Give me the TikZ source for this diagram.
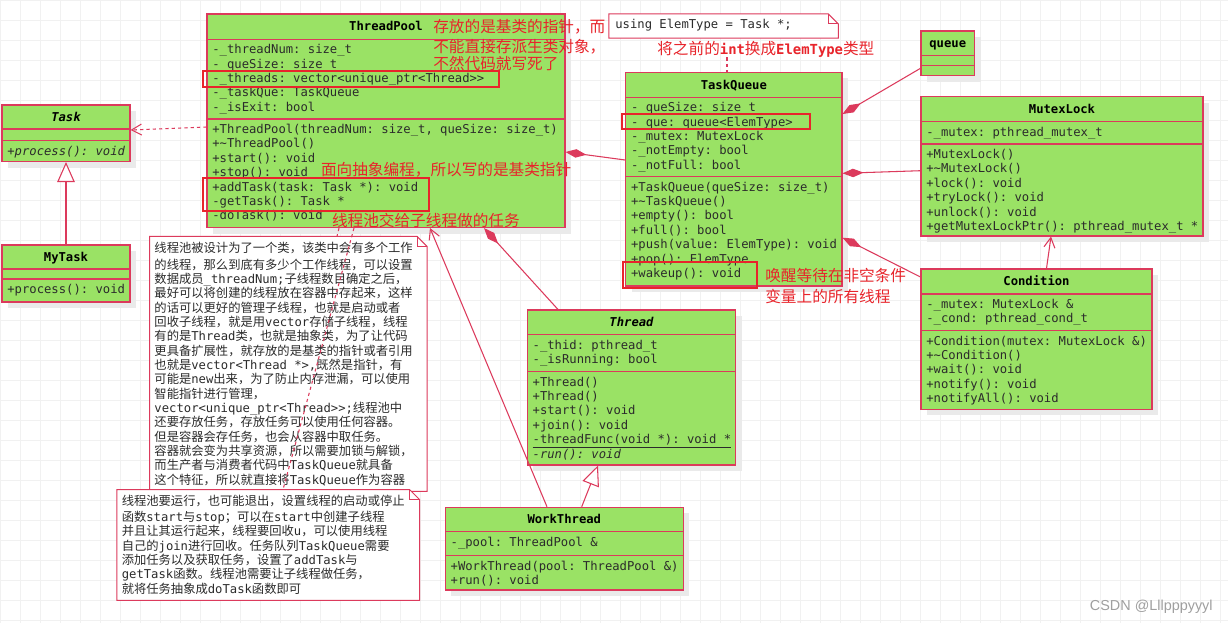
\documentclass[tikz,border=0pt]{standalone}
\usepackage{fontspec}
\setmonofont{DejaVu Sans Mono}
\setsansfont{Liberation Sans}
\newfontfamily\cjk{Noto Sans CJK SC}
\usetikzlibrary{arrows.meta, fit, calc}
\definecolor{umlGreen}{HTML}{9AE265}
\definecolor{umlBorder}{HTML}{DC3A5C}
\definecolor{umlText}{HTML}{2B2B2B}
\definecolor{annoRed}{HTML}{E8242B}
\definecolor{gridGrey}{HTML}{F1F1F1}
\definecolor{shadowGrey}{HTML}{EAEAEA}
\newcommand\umlfont{\ttfamily\fontsize{6.95}{8.2}\selectfont}
\newcommand\notefont{\cjk\fontsize{7}{8.15}\selectfont}
\newcommand\lt[1]{{\ttfamily\fontsize{6.95}{8.15}\selectfont #1}}
\newcommand\redfont{\cjk\fontsize{8.9}{10}\selectfont}
\tikzset{
  % class boxes and their parts
  classbox/.style   = {draw=umlBorder, fill=umlGreen, line width=0.6pt, inner sep=0},
  classrule/.style  = {umlBorder, line width=0.6pt},
  boxshadow/.style  = {fill=shadowGrey},
  classtitle/.style = {anchor=base, inner sep=0, font=\umlfont\bfseries, text=black},
  members/.style    = {anchor=north west, align=left, inner xsep=0.1cm, inner ysep=0,
                       font=\umlfont, text=umlText},
  % notes
  notearea/.style   = {inner sep=0},
  notebox/.style    = {draw=umlBorder, fill=white, line width=0.6pt},
  notetext/.style   = {anchor=north west, align=left, inner xsep=0.09cm, inner ysep=0,
                       font=\notefont, text=umlText},
  % red remarks on top
  markbox/.style    = {draw=annoRed, line width=1.1pt},
  redlbl/.style     = {anchor=base west, inner sep=0, font=\redfont, text=annoRed},
  % connectors
  compose/.style    = {{Diamond[length=4.2mm, width=1.7mm]}-, umlBorder, line width=0.6pt},
  inherit/.style    = {-{Triangle[length=4mm, width=3.5mm, fill=white]}, umlBorder, line width=0.6pt},
  assoc/.style      = {-{Straight Barb[length=2mm, width=2.2mm]}, umlBorder, line width=0.6pt},
  depline/.style    = {assoc, dash pattern=on 1.8pt off 1.8pt},
  notelink/.style   = {umlBorder, line width=0.6pt, dash pattern=on 1.8pt off 1.8pt},
  gridline/.style   = {gridGrey, line width=0.3pt},
}
% #1 name, #2 left, #3 top, #4 right, #5 first rule, #6 second rule, #7 bottom
\newcommand{\umlbox}[7]{%
  \fill[boxshadow] (#2+6,#3+6) rectangle (#4+6,#7+6);
  \node[classbox, fit={(#2,#3) (#4,#7)}] (#1) {};
  \draw[classrule] (#2,#5) -- (#4,#5) (#2,#6) -- (#4,#6);
  \coordinate (#1-t) at ({(#2+#4)/2},{(#3+#5)/2+4.3});
  \coordinate (#1-a) at (#2,#5+4);
  \coordinate (#1-o) at (#2,#6+4);
}
% note with a folded corner, drawn round a fit node
\newcommand{\umlnote}[1]{%
  \draw[notebox] (#1.north west) -- ($(#1.north east)+(-10,0)$) -- ($(#1.north east)+(0,10)$)
    -- (#1.south east) -- (#1.south west) -- cycle;
  \draw[notebox, fill=none] ($(#1.north east)+(-10,0)$) -- ($(#1.north east)+(-10,10)$)
    -- ($(#1.north east)+(0,10)$);
}
\begin{document}
\begin{tikzpicture}[x=0.02cm, y=-0.02cm]
  \useasboundingbox (0,0) rectangle (1228,623);
  \fill[white] (0,0) rectangle (1228,623);
  % --- faint background grid ---------------------------------------------
  \foreach \gx in {0,20,...,1220} \draw[gridline] (\gx,0) -- (\gx,623);
  \foreach \gy in {0,20,...,620} \draw[gridline] (0,\gy) -- (1228,\gy);

  % --- ThreadPool -------------------------------------------------------
  \umlbox{pool}{207}{14}{565}{39.3}{119}{227.5}
  \node[classtitle] (pool-name) at (pool-t) {ThreadPool};
  \node[members] (pool-attrs) at (pool-a) {\strut-\_threadNum: size\_t\\-\_queSize: size\_t\\
    -\_threads: vector<unique\_ptr<Thread>{}>\\-\_taskQue: TaskQueue\\-\_isExit: bool};
  \node[members] (pool-ops) at (pool-o) {\strut+ThreadPool(threadNum: size\_t, queSize: size\_t)\\
    +\textasciitilde ThreadPool()\\+start(): void\\+stop(): void\\+addTask(task: Task *): void\\
    -getTask(): Task *\\-doTask(): void};

  % --- Task / MyTask ----------------------------------------------------
  \umlbox{task}{2}{105}{130}{129}{140.7}{161.5}
  \node[classtitle] (task-name) at (task-t) {\itshape Task};
  \node[members] (task-ops) at (task-o) {\strut\itshape +process(): void};
  \umlbox{mytask}{2}{245}{130}{269}{279}{302}
  \node[classtitle] (mytask-name) at (mytask-t) {MyTask};
  \node[members] (mytask-ops) at (mytask-o) {\strut+process(): void};

  % --- TaskQueue and what it holds --------------------------------------
  \umlbox{tq}{625.7}{72.3}{842}{97.3}{176.7}{286}
  \node[classtitle] (tq-name) at (tq-t) {TaskQueue};
  \node[members] (tq-attrs) at (tq-a) {\strut-\_queSize: size\_t\\-\_que: queue<ElemType>\\
    -\_mutex: MutexLock\\-\_notEmpty: bool\\-\_notFull: bool};
  \node[members] (tq-ops) at (tq-o) {\strut+TaskQueue(queSize: size\_t)\\+\textasciitilde TaskQueue()\\
    +empty(): bool\\+full(): bool\\+push(value: ElemType): void\\+pop(): ElemType\\+wakeup(): void};

  \umlbox{queue}{921}{31}{974.5}{55.7}{65.7}{75.7}
  \node[classtitle] (queue-name) at (queue-t) {queue};

  \umlbox{mutex}{921}{96.7}{1203}{121.7}{144}{236}
  \node[classtitle] (mutex-name) at (mutex-t) {MutexLock};
  \node[members] (mutex-attrs) at (mutex-a) {\strut-\_mutex: pthread\_mutex\_t};
  \node[members] (mutex-ops) at (mutex-o) {\strut+MutexLock()\\+\textasciitilde MutexLock()\\
    +lock(): void\\+tryLock(): void\\+unlock(): void\\+getMutexLockPtr(): pthread\_mutex\_t *};

  \umlbox{cond}{921}{269}{1152}{294}{330.7}{409.3}
  \node[classtitle] (cond-name) at (cond-t) {Condition};
  \node[members] (cond-attrs) at (cond-a) {\strut-\_mutex: MutexLock \&\\-\_cond: pthread\_cond\_t};
  \node[members] (cond-ops) at (cond-o) {\strut+Condition(mutex: MutexLock \&)\\+\textasciitilde Condition()\\
    +wait(): void\\+notify(): void\\+notifyAll(): void};

  % --- Thread / WorkThread ----------------------------------------------
  \umlbox{thread}{527.3}{310}{735.7}{334.7}{371.7}{465}
  \node[classtitle] (thread-name) at (thread-t) {\itshape Thread};
  \node[members] (thread-attrs) at (thread-a) {\strut-\_thid: pthread\_t\\-\_isRunning: bool};
  \node[members] (thread-ops) at (thread-o) {\strut+Thread()\\+Thread()\\+start(): void\\+join(): void\\
    \underline{-threadFunc(void *): void *}\\\textit{-run(): void}};

  \umlbox{work}{445.3}{507.3}{683.3}{531.7}{555.7}{590}
  \node[classtitle] (work-name) at (work-t) {WorkThread};
  \node[members] (work-attrs) at (work-a) {\strut-\_pool: ThreadPool \&};
  \node[members] (work-ops) at (work-o) {\strut+WorkThread(pool: ThreadPool \&)\\+run(): void};

  % --- notes ------------------------------------------------------------
  \node[notearea, fit={(150,236.7) (426.7,491)}] (note1) {};
  \umlnote{note1}
  \node[notetext] (note1-text) at ($(note1.north west)+(0,5.7)$) {\strut
    线程池被设计为了一个类，该类中会有多个工作\\
    的线程，那么到底有多少个工作线程，可以设置\\
    数据成员\lt{\_threadNum;}子线程数目确定之后，\\
    最好可以将创建的线程放在容器中存起来，这样\\
    的话可以更好的管理子线程，也就是启动或者\\
    回收子线程，就是用\lt{vector}存储子线程，线程\\
    有的是\lt{Thread}类，也就是抽象类，为了让代码\\
    更具备扩展性，就存放的是基类的指针或者引用\\
    也就是\lt{vector<Thread *>,}既然是指针，有\\
    可能是\lt{new}出来，为了防止内存泄漏，可以使用\\
    智能指针进行管理，\\
    \lt{vector<unique\_ptr<Thread>{}>;}线程池中\\
    还要存放任务，存放任务可以使用任何容器。\\
    但是容器会存任务，也会从容器中取任务。\\
    容器就会变为共享资源，所以需要加锁与解锁，\\
    而生产者与消费者代码中\lt{TaskQueue}就具备\\
    这个特征，所以就直接将\lt{TaskQueue}作为容器};

  \node[notearea, fit={(117.3,490) (419.3,600)}] (note2) {};
  \umlnote{note2}
  \node[notetext] (note2-text) at ($(note2.north west)+(0,4.7)$) {\strut
    线程池要运行，也可能退出，设置线程的启动或停止\\
    函数\lt{start}与\lt{stop}；可以在\lt{start}中创建子线程\\
    并且让其运行起来，线程要回收\lt{u}，可以使用线程\\
    自己的\lt{join}进行回收。任务队列\lt{TaskQueue}需要\\
    添加任务以及获取任务，设置了\lt{addTask}与\\
    \lt{getTask}函数。线程池需要让子线程做任务，\\
    就将任务抽象成\lt{doTask}函数即可};

  \node[notearea, fit={(609.3,14.3) (838,37.7)}] (usingnote) {};
  \umlnote{usingnote}
  \node[anchor=base west, inner sep=0, font=\umlfont, text=umlText] (using-text) at (615,28.9)
    {using ElemType = Task *;};

  % --- connectors -------------------------------------------------------
  \draw[depline] (pool.west |- 0,127) -- (task.east |- 0,130);
  \draw[inherit] (mytask.north) -- (task.south);
  \draw[compose] (pool.east |- 0,152) -- (tq.west |- 0,160);
  \draw[compose] (pool.south -| 484,0) -- (thread.north -| 558,0);
  \draw[assoc] (work.north -| 547,0) -- (pool.south -| 430,0);
  \draw[inherit] (work.north -| 581.7,0) -- (thread.south -| 598,0);
  \draw[compose] (tq.east |- 0,114) -- (queue.west |- 0,68.3);
  \draw[compose] (tq.east |- 0,173.3) -- (mutex.west |- 0,170.7);
  \draw[compose] (tq.east |- 0,237.7) -- (cond.west |- 0,277);
  \draw[assoc] (cond.north -| 1046.5,0) -- (mutex.south -| 1051,0);
  \draw[notelink] (pool.south -| 339,0) -- (note1.north -| 337,0);
  \draw[notelink] (pool.south -| 354,0) -- (note2.north -| 283,0);

  % --- red remarks ------------------------------------------------------
  \draw[markbox] (203.3,71) rectangle (499,86.7);
  \draw[markbox] (203.3,178.3) rectangle (429.3,210.7);
  \draw[markbox] (622.3,114) rectangle (810,129);
  \draw[markbox] (623.3,262.3) rectangle (756.7,288.3);
  \node[redlbl, anchor=north west, align=left] (lbl-base) at (433,18.6)
    {\strut 存放的是基类的指针，而\\不能直接存派生类对象，\\不然代码就写死了};
  \node[redlbl] (lbl-abstract) at (320.7,175.2) {面向抽象编程，所以写的是基类指针};
  \node[redlbl] (lbl-dotask) at (331.7,226.6) {线程池交给子线程做的任务};
  \node[redlbl] (elemlbl) at (657,54.2) {将之前的{\ttfamily\bfseries\fontsize{7.9}{10}\selectfont int}换成{\ttfamily\bfseries\fontsize{7.9}{10}\selectfont ElemType}类型};
  \draw[notelink] (elemlbl.south -| 727,0) -- (tq.north -| 727,0);
  \node[redlbl, anchor=north west, align=left, font=\cjk\fontsize{8.9}{10.4}\selectfont] (lbl-wake)
    at (765,268.1) {\strut 唤醒等待在非空条件\\变量上的所有线程};

  \node[anchor=base east, inner sep=0, font=\sffamily\fontsize{8.2}{10}\selectfont, text=gray!75]
    (watermark) at (1213,610) {CSDN @Lllpppyyyl};
\end{tikzpicture}
\end{document}
